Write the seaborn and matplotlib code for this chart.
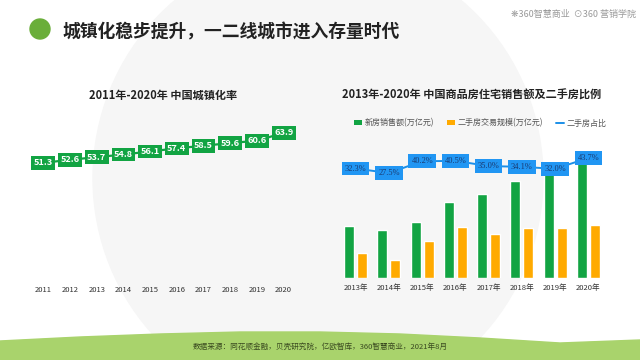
import matplotlib
matplotlib.use("Agg")
import matplotlib.pyplot as plt
import matplotlib.patches as patches
from matplotlib.lines import Line2D
import pandas as pd
import seaborn as sns

# Data
urban_years = ["2011", "2012", "2013", "2014", "2015", "2016", "2017", "2018", "2019", "2020"]
urban_rate = [51.3, 52.6, 53.7, 54.8, 56.1, 57.4, 58.5, 59.6, 60.6, 63.9]

house_years = ["2013年", "2014年", "2015年", "2016年", "2017年", "2018年", "2019年", "2020年"]
new_sales = [6.8, 6.2, 7.3, 9.9, 11.0, 12.6, 14.0, 15.5]
second_sales = [3.2, 2.4, 4.8, 6.7, 5.8, 6.5, 6.5, 6.9]
second_share = [32.3, 27.5, 40.2, 40.5, 35.0, 34.1, 32.0, 43.7]

SERIES_NEW = "新房销售额(万亿元)"
SERIES_OLD = "二手房交易规模(万亿元)"
SERIES_SHARE = "二手房占比"

GREEN = "#12a443"
ORANGE = "#ffaa00"
BLUE = "#1b8fe8"

sns.set_theme(style="white")
plt.rcParams["font.family"] = ["Noto Sans CJK SC", "DejaVu Sans"]

W, H = 640, 360
fig = plt.figure(figsize=(6.4, 3.6), dpi=100)
fig.patch.set_facecolor("white")


def fx(px):
    return px / W


def fy(py):
    return 1 - py / H


# background shapes (kept behind the axes)
fig.patches.append(patches.Ellipse((fx(318), fy(178)), 450 / W, 460 / H,
                                   transform=fig.transFigure, color="#f6f6f6", zorder=-10))
wave_x = [0, 80, 160, 240, 320, 400, 480, 560, 640, 640, 0]
wave_y = [341, 337, 334, 332, 332, 334, 338, 343, 340, 360, 360]
fig.patches.append(patches.Polygon([(fx(a), fy(b)) for a, b in zip(wave_x, wave_y)],
                                   closed=True, transform=fig.transFigure,
                                   color="#a9d36c", zorder=-9))

# header
fig.patches.append(patches.Ellipse((fx(40), fy(29)), 20 / W, 20 / H,
                                   transform=fig.transFigure, color="#6aae3a", zorder=2))
fig.text(fx(62), fy(32), "城镇化稳步提升，一二线城市进入存量时代", fontsize=12.8,
         fontweight="bold", color="#222222", va="center", ha="left")
fig.text(fx(636), fy(14), "❋360智慧商业  ⊙360 营销学院", fontsize=6.5,
         color="#9a9a9a", va="center", ha="right")
fig.text(fx(320), fy(347), "数据来源：同花顺金融，贝壳研究院，亿欧智库，360智慧商业，2021年8月",
         fontsize=5.5, color="#3a4a20", va="center", ha="center")

# left chart: urbanization rate
ax1 = fig.add_axes([fx(30), fy(285), 267 / W, 175 / H])
ax1.set_facecolor("none")
df1 = pd.DataFrame({"year": urban_years, "rate": urban_rate})
df1["pos"] = range(len(df1))
sns.lineplot(data=df1, x="pos", y="rate", ax=ax1, color=GREEN, linewidth=1.6)
for i, v in enumerate(urban_rate):
    ax1.text(i, v, f"{v:.1f}", ha="center", va="center", fontsize=6.6, color="white",
             fontweight="bold",
             bbox=dict(boxstyle="square,pad=0.25", facecolor=GREEN, edgecolor="none"))
ax1.set_xlim(-0.5, len(urban_years) - 0.5)
ax1.set_ylim(0, 73.5)
ax1.set_xticks(range(len(urban_years)))
ax1.set_xticklabels(urban_years, fontsize=5.5, color="#333333")
ax1.set_yticks([])
ax1.set_xlabel("")
ax1.set_ylabel("")
ax1.tick_params(axis="x", length=0, pad=1)
sns.despine(ax=ax1, left=True, bottom=True)
fig.text(fx(163), fy(95), "2011年-2020年 中国城镇化率", fontsize=8, fontweight="bold",
         color="#222222", ha="center", va="center")

# right chart: housing sales
ax2 = fig.add_axes([fx(339), fy(278), 266 / W, 138 / H])
ax2.set_facecolor("none")
df2 = pd.DataFrame({"year": house_years * 2,
                    "value": new_sales + second_sales,
                    "series": [SERIES_NEW] * len(house_years) + [SERIES_OLD] * len(house_years)})
sns.barplot(data=df2, x="year", y="value", hue="series", ax=ax2,
            palette=[GREEN, ORANGE], width=0.78, gap=0.23, legend=False, saturation=1)
ax2.set_xlim(-0.5, len(house_years) - 0.5)
ax2.set_ylim(0, 18)
ax2.set_yticks([])
ax2.set_xlabel("")
ax2.set_ylabel("")
ax2.tick_params(axis="x", length=0, pad=4, labelsize=5.5, labelcolor="#333333")
sns.despine(ax=ax2, left=True, bottom=True)

ax3 = ax2.twinx()
df3 = pd.DataFrame({"pos": range(len(house_years)), "share": second_share})
sns.lineplot(data=df3, x="pos", y="share", ax=ax3, color=BLUE, linewidth=1.4)
for i, v in enumerate(second_share):
    ax3.text(i, v, f"{v:.1f}%", ha="center", va="center", fontsize=6,
             color="#1a3a70", family="Liberation Serif",
             bbox=dict(boxstyle="square,pad=0.35", facecolor="#2196f3", edgecolor="none"))
ax3.set_ylim(-85.4, 63.0)
ax3.set_yticks([])
ax3.set_ylabel("")
for s in ax3.spines.values():
    s.set_visible(False)

fig.text(fx(472), fy(95), "2013年-2020年 中国商品房住宅销售额及二手房比例", fontsize=8,
         fontweight="bold", color="#222222", ha="center", va="center")

handles = [
    patches.Rectangle((0, 0), 1, 1, facecolor=GREEN, edgecolor="none"),
    patches.Rectangle((0, 0), 1, 1, facecolor=ORANGE, edgecolor="none"),
    Line2D([0], [0], color=BLUE, linewidth=1.4),
]
fig.legend(handles, [SERIES_NEW, SERIES_OLD, SERIES_SHARE], loc="center",
           bbox_to_anchor=(fx(480), fy(123)), ncol=3, frameon=False, fontsize=5.8,
           handlelength=1.0, handleheight=0.6, handletextpad=0.3, columnspacing=1.6,
           labelcolor="#555555")

fig.savefig("out.png", dpi=100, facecolor="white")
